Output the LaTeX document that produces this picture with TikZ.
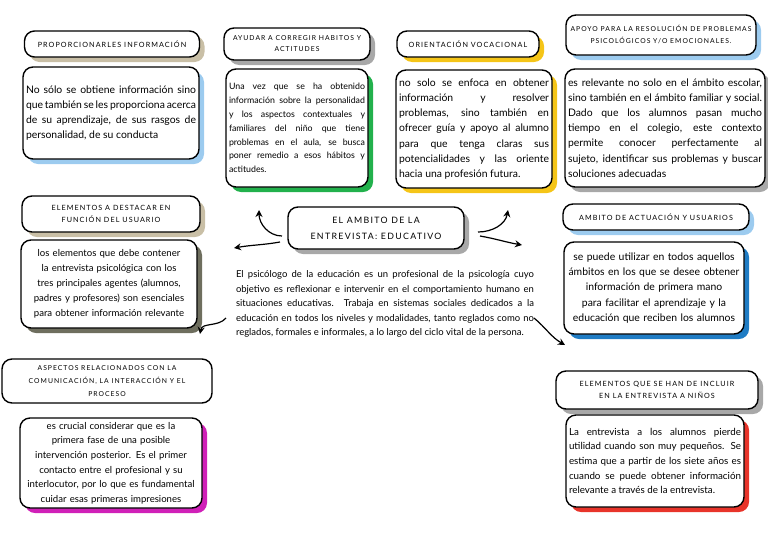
\documentclass[tikz,border=0pt]{standalone}
\usepackage{fontspec}
\usepackage[none]{hyphenat}
\setmainfont{Lato}
\newfontfamily\tfont[LetterSpace=15]{Lato}
\usetikzlibrary{shadows,arrows.meta}
\definecolor{cblue}{HTML}{9CCBEF}
\definecolor{cgreen}{HTML}{22B14C}
\definecolor{cyel}{HTML}{F5C518}
\definecolor{cbeige}{HTML}{C9BFA6}
\definecolor{cgray}{HTML}{A8A8A8}
\definecolor{cdblue}{HTML}{1F7CC4}
\definecolor{cmag}{HTML}{D020B8}
\definecolor{cred}{HTML}{E8342A}
\definecolor{cgrn2}{HTML}{6E6E5E}
\tikzset{
 bx/.style={draw=black, line width=1.4pt, rounded corners=10pt, fill=white, inner sep=3pt, font=\fontsize{10.4}{15.2}\selectfont},
 ttl/.style={bx, font=\tfont\fontsize{7.2}{12}\selectfont, align=center, inner sep=4pt},
 sh/.style={drop shadow={shadow xshift=5pt, shadow yshift=-5pt, fill=#1, opacity=1}},
 arr/.style={-{Stealth[length=7pt,width=7pt]}, line width=1.2pt, black},
}
\begin{document}
\begin{tikzpicture}[x=1pt,y=-1pt]
\useasboundingbox (0,0) rectangle (768,544);
\node[ttl, sh=cbeige, minimum width=175, minimum height=26] (t1) at (112,44) {PROPORCIONARLES INFORMACIÓN};
\node[bx, sh=cblue, text width=170, align=justify, minimum height=92] (b1) at (111,113) {No sólo se obtiene información sino que también se les proporciona acerca de su aprendizaje, de sus rasgos de personalidad, de su conducta};
\node[ttl, sh=cgray, minimum width=146, minimum height=32, font=\tfont\fontsize{6.8}{11}\selectfont] (t2) at (297,44) {AYUDAR A CORREGIR HABITOS Y\\ACTITUDES};
\node[bx, sh=cgreen, text width=136, align=justify, minimum height=118, font=\fontsize{8.8}{13.8}\selectfont] (b2) at (297,128) {Una vez que se ha obtenido información sobre la personalidad y los aspectos contextuales y familiares del niño que tiene problemas en el aula, se busca poner remedio a esos hábitos y actitudes.};
\node[ttl, sh=cyel, minimum width=142, minimum height=26] (t3) at (468,44) {ORIENTACIÓN VOCACIONAL};
\node[bx, sh=cyel, text width=150, align=justify, minimum height=118] (b3) at (474,129) {no solo se enfoca en obtener información y resolver problemas, sino también en ofrecer guía y apoyo al alumno para que tenga claras sus potencialidades y las oriente hacia una profesión futura.};
\node[ttl, sh=cblue, minimum width=190, minimum height=40, font=\tfont\fontsize{6.8}{12}\selectfont] (t4) at (661,35) {APOYO PARA LA RESOLUCIÓN DE PROBLEMAS\\PSICOLÓGICOS Y/O EMOCIONALES.};
\node[bx, sh=cgray, text width=194, align=justify, minimum height=118] (b4) at (665,128) {es relevante no solo en el ámbito escolar, sino también en el ámbito familiar y social. Dado que los alumnos pasan mucho tiempo en el colegio, este contexto permite conocer perfectamente al sujeto, identificar sus problemas y buscar soluciones adecuadas};
\node[ttl, sh=cbeige, minimum width=178, minimum height=36] (t5) at (111,214) {ELEMENTOS A DESTACAR EN\\FUNCIÓN DEL USUARIO};
\node[bx, sh=cgrn2, text width=170, align=center, minimum height=88, font=\fontsize{9.6}{15}\selectfont] (b5) at (109,284) {los elementos que debe contener la entrevista psicológica con los tres principales agentes (alumnos, padres y profesores) son esenciales para obtener información relevante};
\node[ttl, sh=cgray, minimum width=176, minimum height=42, font=\tfont\fontsize{8.8}{16}\selectfont] (c) at (376,228) {EL AMBITO DE LA\\ENTREVISTA: EDUCATIVO};
\node[text width=298, align=justify, font=\fontsize{9.5}{14.4}\selectfont, inner sep=0] (ct) at (385,304) {El psicólogo de la educación es un profesional de la psicología cuyo objetivo es reflexionar e intervenir en el comportamiento humano en situaciones educativas. Trabaja en sistemas sociales dedicados a la educación en todos los niveles y modalidades, tanto reglados como no reglados, formales e informales, a lo largo del ciclo vital de la persona.};
\node[ttl, sh=cblue, minimum width=186, minimum height=26] (t7) at (656,217) {AMBITO DE ACTUACIÓN Y USUARIOS};
\node[bx, sh=cdblue, text width=174, align=center, minimum height=92] (b7) at (654,288) {se puede utilizar en todos aquellos ámbitos en los que se desee obtener información de primera mano para facilitar el aprendizaje y la educación que reciben los alumnos};
\node[ttl, minimum width=210, minimum height=44, font=\tfont\fontsize{6.8}{13}\selectfont] (t8) at (107,381) {ASPECTOS RELACIONADOS CON LA\\COMUNICACIÓN, LA INTERACCIÓN Y EL\\PROCESO};
\node[bx, sh=cmag, text width=176, align=center, minimum height=90, font=\fontsize{9.6}{14.6}\selectfont] (b8) at (111,463) {es crucial considerar que es la primera fase de una posible intervención posterior. Es el primer contacto entre el profesional y su interlocutor, por lo que es fundamental cuidar esas primeras impresiones};
\node[ttl, sh=cgray, minimum width=202, minimum height=38] (t9) at (657,390) {ELEMENTOS QUE SE HAN DE INCLUIR\\EN LA ENTREVISTA A NIÑOS};
\node[bx, sh=cred, text width=172, align=justify, minimum height=92, font=\fontsize{9.8}{14.6}\selectfont] (b9) at (655,461) {La entrevista a los alumnos pierde utilidad cuando son muy pequeños. Se estima que a partir de los siete años es cuando se puede obtener información relevante a través de la entrevista.};
\coordinate (a1s) at (282,236); \coordinate (a1e) at (259,210);
\coordinate (a2s) at (280,242); \coordinate (a2e) at (234,248);
\coordinate (a3s) at (478,232); \coordinate (a3e) at (508,210);
\coordinate (a4s) at (480,236); \coordinate (a4e) at (522,245);
\coordinate (a5s) at (226,318); \coordinate (a5e) at (200,334);
\coordinate (a6s) at (534,318); \coordinate (a6e) at (565,345);
\draw[arr] (a1s) to[out=180,in=-90] (a1e);
\draw[arr] (a2s) to[out=190,in=10] (a2e);
\draw[arr] (a3s) to[out=0,in=-100] (a3e);
\draw[arr] (a4s) to[out=-10,in=170] (a4e);
\draw[arr] (a5s) to[out=230,in=80] (a5e);
\draw[arr] (a6s) to[out=-40,in=150] (a6e);
\end{tikzpicture}
\end{document}
